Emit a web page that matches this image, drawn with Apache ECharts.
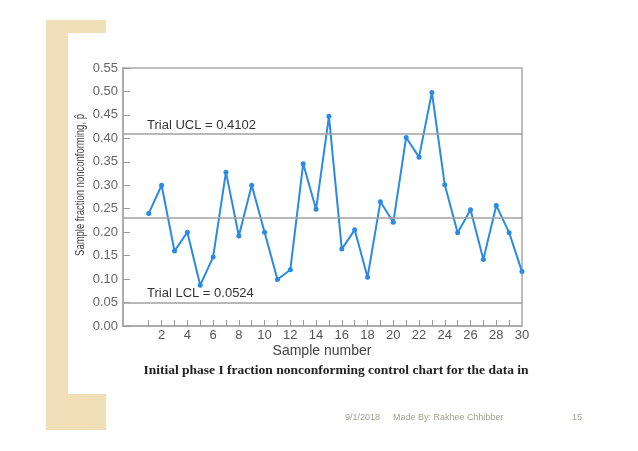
<!DOCTYPE html>
<html>
<head>
<meta charset="utf-8">
<script src="https://cdn.jsdelivr.net/npm/echarts@6/dist/echarts.min.js"></script>
<style>
html,body{margin:0;padding:0;background:#fff;}
#chart{width:638px;height:451px;}
</style>
</head>
<body>
<div id="chart"></div>
<script>
// ---- data ----
const samples = [1,2,3,4,5,6,7,8,9,10,11,12,13,14,15,16,17,18,19,20,21,22,23,24,25,26,27,28,29,30];
const fractions = [0.240,0.300,0.160,0.200,0.087,0.147,0.328,0.192,0.300,0.200,
                   0.099,0.120,0.346,0.249,0.447,0.164,0.205,0.104,0.265,0.221,
                   0.402,0.360,0.498,0.301,0.199,0.248,0.142,0.257,0.199,0.116];
const UCL = 0.4102;
const CL = 0.2313;
const LCL = 0.0524;
const yTicks = [0,0.05,0.10,0.15,0.20,0.25,0.30,0.35,0.40,0.45,0.50,0.55];
const xTickValues = [1,2,3,4,5,6,7,8,9,10,11,12,13,14,15,16,17,18,19,20,21,22,23,24,25,26,27,28,29];
const xLabelValues = [2,4,6,8,10,12,14,16,18,20,22,24,26,28,30];
const yAxisTitle = 'Sample fraction nonconforming, p\u0302';
const xAxisTitle = 'Sample number';
const caption = 'Initial phase I fraction nonconforming control chart for the data in';
const footerDate = '9/1/2018';
const footerAuthor = 'Made By: Rakhee Chhibber';
const footerPage = '15';

const chart = echarts.init(document.getElementById('chart'), null, {renderer:'canvas'});
const gridL = 123, gridR = 116, gridT = 68, gridB = 125;
const frameColor = '#a8a8a8';
const lineGrey = '#a0a0a0';
const beige = '#f1dfb7';

const option = {
  animation: false,
  backgroundColor: '#ffffff',
  grid: {left: gridL, right: gridR, top: gridT, bottom: gridB, show: true,
         borderColor: frameColor, borderWidth: 1.5, backgroundColor: 'transparent'},
  xAxis: {
    type: 'value', min: -1, max: 30,
    axisLine: {show: true, onZero: false, lineStyle: {color: frameColor, width: 1.5}},
    axisTick: {show: true, inside: true, length: 6, customValues: xTickValues,
               lineStyle: {color: '#9a9a9a', width: 1}},
    axisLabel: {customValues: xLabelValues, color: '#555', fontSize: 13,
                fontFamily: 'Liberation Sans, Arial, sans-serif', margin: 3},
    splitLine: {show: false}
  },
  yAxis: {
    type: 'value', min: 0, max: 0.55,
    axisLine: {show: true, onZero: false, lineStyle: {color: frameColor, width: 1.5}},
    axisTick: {show: true, inside: true, length: 7, customValues: yTicks,
               lineStyle: {color: '#9a9a9a', width: 1}},
    axisLabel: {customValues: yTicks, color: '#666', fontSize: 13,
                fontFamily: 'Liberation Sans, Arial, sans-serif', margin: 5,
                formatter: v => v.toFixed(2)},
    splitLine: {show: false}
  },
  series: [{
    type: 'line',
    data: samples.map((s, i) => [s, fractions[i]]),
    symbol: 'circle', symbolSize: 5,
    itemStyle: {color: '#2b8ae2'},
    lineStyle: {color: '#2b8ae2', width: 2},
    z: 3,
    markLine: {
      silent: true, symbol: 'none',
      lineStyle: {color: lineGrey, width: 1.5, type: 'solid'},
      label: {show: false},
      data: [
        {yAxis: UCL, label: {show: true, position: 'insideStartTop', distance: [24, 2],
           formatter: 'Trial UCL = 0.4102', color: '#333', fontSize: 13,
           fontFamily: 'Liberation Sans, Arial, sans-serif'}},
        {yAxis: CL},
        {yAxis: LCL, label: {show: true, position: 'insideStartTop', distance: [24, 3],
           formatter: 'Trial LCL = 0.0524', color: '#333', fontSize: 13,
           fontFamily: 'Liberation Sans, Arial, sans-serif'}}
      ]
    }
  }],
  graphic: [
    // decorative bracket
    {type: 'rect', shape: {x: 46, y: 20, width: 22, height: 410}, style: {fill: beige}, z: 0},
    {type: 'rect', shape: {x: 46, y: 20, width: 60, height: 13}, style: {fill: beige}, z: 0},
    {type: 'rect', shape: {x: 46, y: 394, width: 60, height: 36}, style: {fill: beige}, z: 0},
    {type: 'text', x: 80, y: 185, rotation: Math.PI / 2, scaleX: 0.73, z: 5,
     style: {text: yAxisTitle, fill: '#444', fontSize: 13,
             fontFamily: 'Liberation Sans, Arial, sans-serif',
             align: 'center', verticalAlign: 'middle'}},
    {type: 'text', x: 322, y: 351, z: 5,
     style: {text: xAxisTitle, fill: '#444', fontSize: 14,
             fontFamily: 'Liberation Sans, Arial, sans-serif',
             align: 'center', verticalAlign: 'middle'}},
    {type: 'text', x: 336, y: 371, z: 5,
     style: {text: caption, fill: '#222', fontSize: 13.5, fontWeight: 'bold',
             fontFamily: 'Liberation Serif, Times New Roman, serif',
             align: 'center', verticalAlign: 'middle'}},
    {type: 'text', x: 345, y: 418, z: 5,
     style: {text: footerDate, fill: '#a39e92', fontSize: 9,
             fontFamily: 'Liberation Sans, Arial, sans-serif', verticalAlign: 'middle'}},
    {type: 'text', x: 393, y: 418, z: 5,
     style: {text: footerAuthor, fill: '#a39e92', fontSize: 9,
             fontFamily: 'Liberation Sans, Arial, sans-serif', verticalAlign: 'middle'}},
    {type: 'text', x: 572, y: 418, z: 5,
     style: {text: footerPage, fill: '#a39e92', fontSize: 9,
             fontFamily: 'Liberation Sans, Arial, sans-serif', verticalAlign: 'middle'}}
  ]
};
chart.setOption(option);
</script>
</body>
</html>
